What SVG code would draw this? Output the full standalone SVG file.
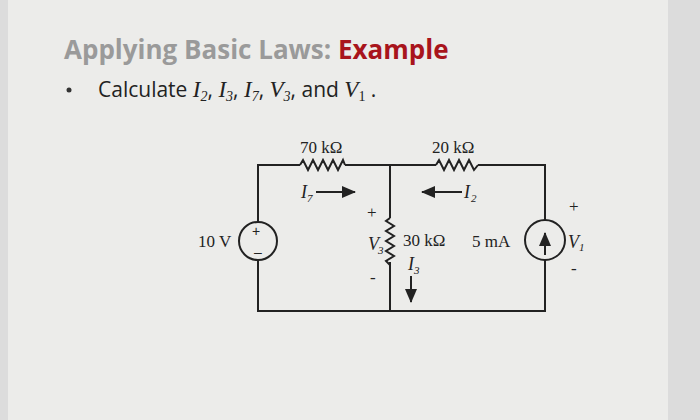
<svg xmlns="http://www.w3.org/2000/svg" width="700" height="420" viewBox="0 0 700 420">
<style>
.w{fill:none;stroke:#222;stroke-width:2}
.t{font-family:"Liberation Serif",serif;font-size:17px;fill:#222}
.i{font-family:"Liberation Serif",serif;font-style:italic;fill:#222}
</style>
<defs>
<marker id="b" markerWidth="14" markerHeight="12" refX="13" refY="6" orient="auto" markerUnits="userSpaceOnUse"><path d="M0,0L14,6L0,12z" fill="#222"/></marker></defs>
<rect width="700" height="420" fill="#dcdcdc"/>
<rect x="8" y="0" width="660" height="420" fill="#ececea"/>
<text x="64" y="59" font-family="Open Sans,sans-serif" font-weight="bold" font-size="26" fill="#9a9a9a">Applying Basic Laws: <tspan fill="#a8141c">Example</tspan></text>
<circle cx="69" cy="90" r="2.5" fill="#333"/>
<text x="98" y="97" font-family="Open Sans,sans-serif" font-size="21" fill="#222">Calculate <tspan class="i" font-size="23">I</tspan><tspan class="i" font-size="14" dy="4">2</tspan><tspan dy="-4">, </tspan><tspan class="i" font-size="23">I</tspan><tspan class="i" font-size="14" dy="4">3</tspan><tspan dy="-4">, </tspan><tspan class="i" font-size="23">I</tspan><tspan class="i" font-size="14" dy="4">7</tspan><tspan dy="-4">, </tspan><tspan class="i" font-size="23">V</tspan><tspan class="i" font-size="14" dy="4">3</tspan><tspan dy="-4">, and  </tspan><tspan class="i" font-size="23">V</tspan><tspan font-family="Liberation Serif,serif" font-size="14" dy="4">1</tspan><tspan dy="-4"> .</tspan></text>
<g id="connectors">
<path class="w" d="M258,222V165H300M345,165H390H436M478,165H545V220M545,260V311H258V260M390,165V218M390,262V311"/>
</g>
<g id="r70"><path class="w" d="M300,165l3,-5l5,10l5,-10l5,10l5,-10l5,10l5,-10l5,10l5,-10l2,5"/><text class="t" x="300" y="153">70 kΩ</text></g>
<g id="r20"><path class="w" d="M436,165l3,-5l5,10l5,-10l5,10l5,-10l5,10l5,-10l5,10l4,-5"/><text class="t" x="432" y="153">20 kΩ</text></g>
<g id="r30"><path class="w" d="M390,218l-4,3l8,5l-8,5l8,5l-8,5l8,5l-8,5l8,5l-8,5l4,4"/><text class="t" x="403" y="246">30 kΩ</text></g>
<g id="vs"><circle class="w" cx="258" cy="241" r="19"/><text x="252" y="236" font-family="Liberation Sans,sans-serif" font-size="14" fill="#222">+</text><text x="254" y="257" font-family="Liberation Sans,sans-serif" font-size="14" fill="#222">–</text><text class="t" x="198" y="247">10 V</text></g>
<g id="is"><circle class="w" cx="545" cy="240" r="20"/><path class="w" d="M545,255V233" marker-end="url(#b)"/><text class="t" x="472" y="247">5 mA</text>
<text class="t" x="569" y="212" font-size="15">+</text><text class="i" x="568" y="248" font-size="18">V</text><text class="i" x="579" y="251" font-size="11">1</text><text class="t" x="571" y="274" font-size="15">-</text></g>
<g id="lab">
<text class="i" x="301" y="198" font-size="18">I</text><text class="i" x="307" y="202" font-size="11">7</text><path class="w" d="M316,192H355" marker-end="url(#b)"/>
<path class="w" d="M462,192H422" marker-end="url(#b)"/><text class="i" x="464" y="198" font-size="18">I</text><text class="i" x="471" y="202" font-size="11">2</text>
<text class="t" x="367" y="218" font-size="15">+</text><text class="i" x="368" y="250" font-size="18">V</text><text class="i" x="378" y="254" font-size="11">3</text><text class="t" x="370" y="283" font-size="15">-</text>
<text class="i" x="408" y="270" font-size="18">I</text><text class="i" x="414" y="274" font-size="11">3</text><path class="w" d="M411,276V302" marker-end="url(#b)"/>
</g>
</svg>
